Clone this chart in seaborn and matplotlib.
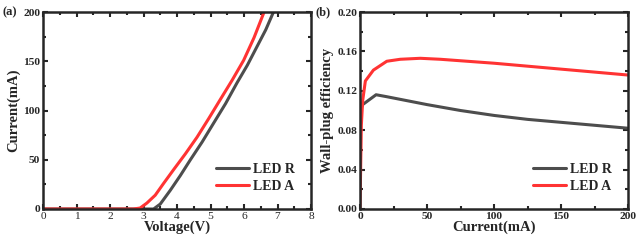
import numpy as np
import pandas as pd
import matplotlib
matplotlib.use("Agg")
import matplotlib.pyplot as plt
from matplotlib.ticker import MultipleLocator
import seaborn as sns

# (a) I-V data
v_R = [0, 1, 2, 3.0, 3.3, 3.5, 3.8, 4.1, 4.4, 4.75, 5.09, 5.45, 5.79, 6.1, 6.39, 6.65, 6.88]
i_R = [0, 0, 0, 0, 0, 5, 19, 34, 50, 68, 87, 107, 128, 146, 165, 182, 200]
v_A = [0, 1, 2, 2.7, 2.9, 3.1, 3.35, 3.6, 3.9, 4.25, 4.6, 4.95, 5.29, 5.65, 5.99, 6.3, 6.6]
i_A = [0, 0, 0, 0, 1, 6, 14, 26, 40, 56, 73, 92, 111, 131, 151, 174, 200]

# (b) wall-plug efficiency data
c_R = [0, 2, 5, 12, 20, 35, 50, 75, 100, 125, 150, 175, 200]
w_R = [0.100, 0.106, 0.109, 0.116, 0.114, 0.110, 0.106, 0.100, 0.095, 0.091, 0.088, 0.085, 0.082]
c_A = [0, 1, 2, 4, 10, 20, 30, 45, 60, 80, 100, 125, 150, 175, 200]
w_A = [0.0, 0.085, 0.110, 0.130, 0.141, 0.150, 0.152, 0.153, 0.152, 0.150, 0.148, 0.145, 0.142, 0.139, 0.136]

labels = ["LED R", "LED A"]
colors = {"LED R": "#4d4d4d", "LED A": "#ff3333"}

sns.set_style("ticks")
plt.rcParams['font.family'] = ['Liberation Serif', 'DejaVu Serif']
plt.rcParams['font.weight'] = 'bold'

df_a = pd.concat([
    pd.DataFrame({"V": v_R, "I": i_R, "LED": labels[0]}),
    pd.DataFrame({"V": v_A, "I": i_A, "LED": labels[1]}),
])
df_b = pd.concat([
    pd.DataFrame({"C": c_R, "W": w_R, "LED": labels[0]}),
    pd.DataFrame({"C": c_A, "W": w_A, "LED": labels[1]}),
])

fig = plt.figure(figsize=(6.37, 2.4), dpi=100)
ax1 = fig.add_axes([43/637, 1 - 209/240, 268/637, 197/240])
ax2 = fig.add_axes([360/637, 1 - 209/240, 268/637, 197/240])

sns.lineplot(data=df_a, x="V", y="I", hue="LED", palette=colors, ax=ax1,
             linewidth=2.2, sort=False, estimator=None)
sns.lineplot(data=df_b, x="C", y="W", hue="LED", palette=colors, ax=ax2,
             linewidth=2.2, sort=False, estimator=None)

ax1.set_xlim(0, 8)
ax1.set_ylim(0, 200)
ax1.xaxis.set_major_locator(MultipleLocator(1))
ax1.xaxis.set_minor_locator(MultipleLocator(0.5))
ax1.yaxis.set_major_locator(MultipleLocator(50))
ax1.yaxis.set_minor_locator(MultipleLocator(25))
ax1.set_xlabel("Voltage(V)", fontsize=10.5, fontweight='bold', labelpad=0)
ax1.set_ylabel("Current(mA)", fontsize=10.5, fontweight='bold', labelpad=2)

ax2.set_xlim(0, 200)
ax2.set_ylim(0, 0.2)
ax2.xaxis.set_major_locator(MultipleLocator(50))
ax2.xaxis.set_minor_locator(MultipleLocator(25))
ax2.yaxis.set_major_locator(MultipleLocator(0.04))
ax2.yaxis.set_minor_locator(MultipleLocator(0.02))
ax2.yaxis.set_major_formatter(matplotlib.ticker.FormatStrFormatter('%.2f'))
ax2.set_xlabel("Current(mA)", fontsize=10.5, fontweight='bold', labelpad=0)
ax2.set_ylabel("Wall-plug efficiency", fontsize=10.5, fontweight='bold', labelpad=2)

for ax in (ax1, ax2):
    for s in ax.spines.values():
        s.set_linewidth(1.8)
        s.set_visible(True)
    ax.tick_params(which='both', direction='in', top=True, right=True,
                   labelsize=8.2, pad=2, width=1.5)
    ax.tick_params(which='major', length=3.5)
    ax.tick_params(which='minor', length=2)
    for t in ax.get_xticklabels() + ax.get_yticklabels():
        t.set_fontweight('bold')
    leg = ax.legend(loc='lower right', frameon=False,
                    handlelength=2.4, borderaxespad=0.75, labelspacing=0.3,
                    handletextpad=0.3, prop={'weight': 'bold', 'size': 10})

for t in ax1.get_xticklabels():
    t.set_fontweight('normal')

fig.text(3/637, 1 - 12/240, "(a)", fontsize=9, fontweight='bold', va='center')
fig.text(316/637, 1 - 12/240, "(b)", fontsize=9, fontweight='bold', va='center')

fig.savefig("out.png", dpi=100)
